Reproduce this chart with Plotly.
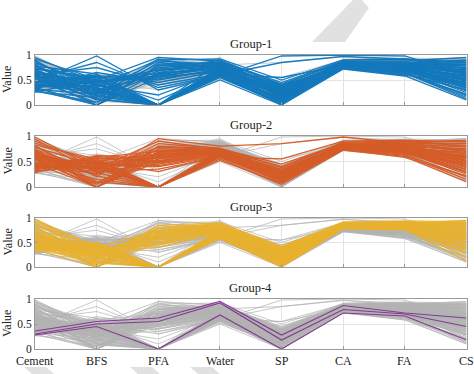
import plotly.graph_objects as go

categories = ["Cement", "BFS", "PFA", "Water", "SP", "CA", "FA", "CS"]
group_names = ["Group-1", "Group-2", "Group-3", "Group-4"]
group_colors = ["#0072BD", "#D95319", "#EDB120", "#7E2F8E"]

# normalised values [Cement, BFS, PFA, Water, SP, CA, FA, CS]
group1 = [
    [0.95, 0.45, 0.00, 0.62, 0.20, 0.80, 0.78, 0.55],
    [0.88, 0.30, 0.00, 0.58, 0.15, 0.82, 0.80, 0.70],
    [0.80, 0.20, 0.00, 0.55, 0.05, 0.85, 0.75, 0.40],
    [0.72, 0.55, 0.00, 0.60, 0.00, 0.78, 0.70, 0.25],
    [0.65, 0.40, 0.00, 0.65, 0.10, 0.76, 0.82, 0.85],
    [0.58, 0.50, 0.00, 0.70, 0.25, 0.80, 0.68, 0.35],
    [0.50, 0.35, 0.00, 0.75, 0.30, 0.83, 0.72, 0.60],
    [0.45, 0.60, 0.00, 0.68, 0.35, 0.78, 0.65, 0.15],
    [0.40, 0.25, 0.00, 0.72, 0.20, 0.74, 0.60, 0.45],
    [0.35, 0.00, 0.55, 0.80, 0.40, 0.76, 0.62, 0.30],
    [0.30, 0.00, 0.65, 0.85, 0.35, 0.80, 0.70, 0.50],
    [0.28, 0.05, 0.75, 0.82, 0.30, 0.78, 0.76, 0.65],
    [0.55, 0.00, 0.80, 0.78, 0.25, 0.82, 0.80, 0.75],
    [0.62, 0.10, 0.85, 0.75, 0.15, 0.85, 0.84, 0.90],
    [0.70, 0.15, 0.92, 0.70, 0.10, 0.86, 0.86, 0.80],
    [0.42, 0.30, 0.60, 0.80, 0.38, 0.80, 0.74, 0.55],
    [0.38, 0.45, 0.70, 0.76, 0.28, 0.79, 0.70, 0.40],
    [0.48, 0.55, 0.50, 0.72, 0.22, 0.77, 0.66, 0.20],
    [0.33, 0.65, 0.45, 0.68, 0.18, 0.75, 0.64, 0.12],
    [0.60, 0.75, 0.40, 0.62, 0.55, 0.80, 0.78, 0.68],
    [0.52, 0.85, 0.35, 0.60, 0.85, 0.97, 0.92, 0.72],
    [0.45, 0.98, 0.30, 0.58, 0.98, 1.00, 0.98, 0.60],
    [0.75, 0.50, 0.95, 0.88, 0.45, 0.88, 0.88, 0.95],
    [0.85, 0.38, 0.90, 0.92, 0.50, 0.90, 0.92, 0.85],
    [0.90, 0.20, 0.00, 0.50, 0.00, 0.72, 0.58, 0.10],
    [0.68, 0.28, 0.00, 0.55, 0.02, 0.74, 0.62, 0.22],
    [0.36, 0.40, 0.20, 0.66, 0.12, 0.76, 0.72, 0.48],
    [0.26, 0.50, 0.10, 0.64, 0.08, 0.73, 0.68, 0.35],
    [0.78, 0.62, 0.00, 0.85, 0.32, 0.84, 0.82, 0.78],
    [0.57, 0.22, 0.68, 0.90, 0.40, 0.87, 0.80, 0.62],
    [0.92, 0.52, 0.00, 0.60, 0.08, 0.79, 0.74, 0.32],
    [0.84, 0.42, 0.00, 0.64, 0.12, 0.81, 0.77, 0.58],
    [0.76, 0.33, 0.00, 0.66, 0.18, 0.80, 0.79, 0.66],
    [0.66, 0.18, 0.00, 0.58, 0.06, 0.77, 0.71, 0.28],
    [0.54, 0.12, 0.00, 0.62, 0.14, 0.79, 0.73, 0.42],
    [0.46, 0.48, 0.58, 0.74, 0.26, 0.81, 0.76, 0.52],
    [0.39, 0.36, 0.72, 0.79, 0.33, 0.83, 0.78, 0.70],
    [0.31, 0.22, 0.82, 0.83, 0.36, 0.84, 0.81, 0.82],
    [0.27, 0.15, 0.62, 0.77, 0.24, 0.80, 0.75, 0.58],
    [0.34, 0.58, 0.52, 0.71, 0.20, 0.78, 0.69, 0.38],
    [0.44, 0.44, 0.64, 0.73, 0.16, 0.77, 0.70, 0.45],
    [0.59, 0.32, 0.00, 0.69, 0.28, 0.82, 0.80, 0.74],
    [0.71, 0.26, 0.88, 0.81, 0.22, 0.85, 0.83, 0.88],
    [0.82, 0.12, 0.00, 0.57, 0.04, 0.75, 0.66, 0.18],
    [0.49, 0.05, 0.78, 0.86, 0.42, 0.86, 0.79, 0.64],
    [0.63, 0.46, 0.56, 0.67, 0.19, 0.79, 0.72, 0.50],
]

group2 = [
    [0.98, 0.35, 0.00, 0.60, 0.20, 0.78, 0.75, 0.50],
    [0.90, 0.45, 0.00, 0.65, 0.25, 0.80, 0.82, 0.70],
    [0.82, 0.55, 0.00, 0.62, 0.15, 0.76, 0.70, 0.30],
    [0.75, 0.00, 0.70, 0.70, 0.30, 0.82, 0.78, 0.65],
    [0.68, 0.00, 0.60, 0.68, 0.22, 0.80, 0.74, 0.45],
    [0.62, 0.05, 0.75, 0.72, 0.35, 0.84, 0.85, 0.85],
    [0.55, 0.00, 0.55, 0.66, 0.18, 0.78, 0.68, 0.25],
    [0.50, 0.40, 0.00, 0.58, 0.10, 0.74, 0.62, 0.15],
    [0.45, 0.30, 0.45, 0.64, 0.28, 0.79, 0.72, 0.55],
    [0.40, 0.50, 0.65, 0.70, 0.32, 0.83, 0.80, 0.75],
    [0.35, 0.60, 0.50, 0.62, 0.20, 0.77, 0.66, 0.35],
    [0.30, 0.45, 0.40, 0.60, 0.12, 0.75, 0.64, 0.20],
    [0.58, 0.25, 0.85, 0.76, 0.38, 0.86, 0.88, 0.92],
    [0.65, 0.35, 0.90, 0.74, 0.40, 0.88, 0.90, 0.80],
    [0.48, 0.15, 0.00, 0.55, 0.05, 0.72, 0.60, 0.10],
    [0.42, 0.55, 0.58, 0.66, 0.25, 0.80, 0.76, 0.60],
    [0.38, 0.40, 0.62, 0.68, 0.30, 0.81, 0.77, 0.68],
    [0.55, 0.48, 0.52, 0.64, 0.22, 0.78, 0.70, 0.40],
    [0.62, 0.42, 0.48, 0.60, 0.15, 0.76, 0.68, 0.30],
    [0.70, 0.30, 0.35, 0.58, 0.55, 0.90, 0.92, 0.88],
    [0.80, 0.20, 0.95, 0.80, 0.85, 0.98, 0.86, 0.72],
    [0.46, 0.00, 0.80, 0.75, 0.45, 0.85, 0.82, 0.58],
    [0.52, 0.52, 0.00, 0.70, 0.28, 0.79, 0.73, 0.50],
    [0.60, 0.38, 0.00, 0.66, 0.20, 0.78, 0.71, 0.42],
    [0.34, 0.50, 0.30, 0.62, 0.18, 0.77, 0.69, 0.62],
    [0.44, 0.58, 0.70, 0.72, 0.26, 0.82, 0.84, 0.78],
    [0.72, 0.10, 0.00, 0.52, 0.08, 0.74, 0.58, 0.22],
    [0.28, 0.62, 0.55, 0.65, 0.24, 0.80, 0.75, 0.48],
    [0.94, 0.28, 0.00, 0.63, 0.18, 0.79, 0.77, 0.60],
    [0.86, 0.50, 0.00, 0.67, 0.24, 0.81, 0.79, 0.52],
    [0.78, 0.42, 0.00, 0.61, 0.12, 0.77, 0.69, 0.34],
    [0.71, 0.00, 0.64, 0.69, 0.27, 0.81, 0.76, 0.56],
    [0.64, 0.08, 0.68, 0.71, 0.31, 0.83, 0.81, 0.72],
    [0.57, 0.00, 0.50, 0.65, 0.21, 0.79, 0.72, 0.44],
    [0.51, 0.34, 0.60, 0.67, 0.25, 0.80, 0.74, 0.58],
    [0.47, 0.46, 0.42, 0.63, 0.19, 0.78, 0.70, 0.38],
    [0.41, 0.36, 0.72, 0.71, 0.29, 0.82, 0.82, 0.82],
    [0.37, 0.56, 0.47, 0.64, 0.23, 0.79, 0.71, 0.46],
    [0.32, 0.40, 0.58, 0.66, 0.27, 0.80, 0.76, 0.66],
    [0.66, 0.22, 0.00, 0.60, 0.14, 0.77, 0.67, 0.28],
    [0.74, 0.32, 0.78, 0.73, 0.33, 0.84, 0.86, 0.90],
    [0.53, 0.44, 0.00, 0.68, 0.26, 0.80, 0.75, 0.62],
    [0.43, 0.26, 0.66, 0.69, 0.22, 0.79, 0.73, 0.52],
]

group3 = [
    [0.98, 0.40, 0.00, 0.65, 0.20, 0.85, 0.88, 0.90],
    [0.90, 0.30, 0.00, 0.70, 0.25, 0.84, 0.86, 0.75],
    [0.82, 0.20, 0.00, 0.75, 0.15, 0.86, 0.90, 0.95],
    [0.75, 0.10, 0.00, 0.68, 0.05, 0.82, 0.84, 0.60],
    [0.65, 0.00, 0.60, 0.80, 0.30, 0.88, 0.92, 0.85],
    [0.58, 0.00, 0.70, 0.85, 0.35, 0.90, 0.88, 0.70],
    [0.50, 0.05, 0.80, 0.88, 0.40, 0.86, 0.85, 0.50],
    [0.45, 0.25, 0.50, 0.78, 0.28, 0.84, 0.82, 0.40],
    [0.40, 0.35, 0.45, 0.72, 0.22, 0.82, 0.80, 0.30],
    [0.35, 0.45, 0.00, 0.62, 0.10, 0.80, 0.78, 0.20],
    [0.32, 0.50, 0.00, 0.58, 0.00, 0.78, 0.76, 0.12],
    [0.55, 0.30, 0.65, 0.82, 0.32, 0.87, 0.90, 0.80],
    [0.62, 0.40, 0.75, 0.86, 0.38, 0.89, 0.92, 0.88],
    [0.70, 0.15, 0.85, 0.90, 0.42, 0.92, 0.94, 0.92],
    [0.48, 0.20, 0.55, 0.75, 0.25, 0.85, 0.86, 0.65],
    [0.38, 0.30, 0.40, 0.70, 0.18, 0.83, 0.83, 0.55],
    [0.85, 0.45, 0.00, 0.66, 0.12, 0.81, 0.80, 0.45],
    [0.42, 0.10, 0.00, 0.60, 0.02, 0.79, 0.78, 0.35],
    [0.60, 0.35, 0.60, 0.80, 0.30, 0.86, 0.88, 0.72],
    [0.52, 0.25, 0.72, 0.84, 0.35, 0.88, 0.90, 0.78],
    [0.36, 0.00, 0.50, 0.74, 0.20, 0.84, 0.84, 0.58],
    [0.68, 0.42, 0.00, 0.64, 0.08, 0.80, 0.82, 0.50],
    [0.95, 0.35, 0.00, 0.68, 0.18, 0.84, 0.87, 0.82],
    [0.87, 0.26, 0.00, 0.72, 0.22, 0.85, 0.88, 0.86],
    [0.78, 0.16, 0.00, 0.70, 0.12, 0.83, 0.85, 0.66],
    [0.66, 0.04, 0.65, 0.82, 0.32, 0.87, 0.90, 0.76],
    [0.56, 0.12, 0.74, 0.86, 0.37, 0.88, 0.89, 0.68],
    [0.47, 0.28, 0.58, 0.79, 0.29, 0.85, 0.85, 0.52],
    [0.41, 0.38, 0.48, 0.74, 0.24, 0.83, 0.82, 0.44],
    [0.34, 0.48, 0.00, 0.63, 0.08, 0.80, 0.80, 0.28],
    [0.58, 0.32, 0.68, 0.83, 0.33, 0.87, 0.89, 0.82],
    [0.72, 0.22, 0.80, 0.88, 0.40, 0.90, 0.92, 0.90],
    [0.50, 0.18, 0.62, 0.80, 0.27, 0.86, 0.87, 0.62],
    [0.39, 0.08, 0.00, 0.61, 0.04, 0.81, 0.79, 0.38],
    [0.62, 0.38, 0.00, 0.67, 0.14, 0.82, 0.84, 0.56],
]

group4 = [
    [0.36, 0.55, 0.62, 0.95, 0.28, 0.87, 0.72, 0.62],
    [0.30, 0.50, 0.55, 0.92, 0.18, 0.79, 0.70, 0.45],
    [0.28, 0.45, 0.00, 0.68, 0.00, 0.72, 0.66, 0.18],
]

groups = [group1, group2, group3, group4]

W, H = 474, 374
x_left, x_right = 35, 466.5
panel_px = [(55, 105), (136, 187), (218, 267), (299, 349)]
serif = "Liberation Serif"
txt = "#222222"
frame = "#9a9a9a"


def build(lines):
    xs, ys = [], []
    for row in lines:
        xs += list(range(len(categories))) + [None]
        ys += list(row) + [None]
    return xs, ys


fig = go.Figure()
annotations = []
for k in range(4):
    sfx = "" if k == 0 else str(k + 1)
    others = [r for j, g in enumerate(groups) if j != k for r in g]
    gx, gy = build(others)
    fig.add_trace(go.Scatter(x=gx, y=gy, mode="lines",
                             line=dict(color="rgba(178,178,178,0.8)", width=0.9),
                             xaxis="x" + sfx, yaxis="y" + sfx,
                             hoverinfo="skip", showlegend=False))
    cx, cy = build(groups[k])
    fig.add_trace(go.Scatter(x=cx, y=cy, mode="lines",
                             line=dict(color=group_colors[k], width=1.3 if k < 3 else 1.2),
                             opacity=0.9,
                             xaxis="x" + sfx, yaxis="y" + sfx,
                             hoverinfo="skip", showlegend=False))
    top, bot = panel_px[k]
    dom_y = [1 - bot / H, 1 - top / H]
    fig.layout["xaxis" + sfx] = dict(
        domain=[x_left / W, x_right / W], range=[0, len(categories) - 1],
        tickmode="array", tickvals=list(range(len(categories))),
        showticklabels=False, automargin=False,
        showgrid=True, gridcolor="#e3e3e3", gridwidth=1,
        showline=True, linecolor=frame, linewidth=1, mirror=True,
        ticks="inside", ticklen=3, tickcolor=frame,
        zeroline=False, anchor="y" + sfx,
    )
    fig.layout["yaxis" + sfx] = dict(
        domain=dom_y, range=[0, 1], tickvals=[0, 0.5, 1], ticktext=["0", "0.5", "1"],
        automargin=False,
        showgrid=True, gridcolor="#e3e3e3", gridwidth=1,
        showline=True, linecolor=frame, linewidth=1, mirror=True,
        ticks="inside", ticklen=3, tickcolor=frame,
        zeroline=False, anchor="x" + sfx,
        tickfont=dict(family=serif, size=11.5, color=txt),
    )
    annotations.append(dict(text=group_names[k], xref="paper", yref="paper",
                            x=(x_left + x_right) / 2 / W, y=1 - (top - 2) / H,
                            xanchor="center", yanchor="bottom", showarrow=False,
                            font=dict(family=serif, size=12.5, color=txt)))
    annotations.append(dict(text="Value", xref="paper", yref="paper",
                            x=7 / W, y=1 - (top + bot) / 2 / H, textangle=-90,
                            xanchor="center", yanchor="middle", showarrow=False,
                            font=dict(family=serif, size=12, color=txt)))

# category labels under the last panel
for i, c in enumerate(categories):
    annotations.append(dict(text=c, xref="x4", yref="paper", x=i, y=1 - 361 / H,
                            xanchor="center", yanchor="middle", showarrow=False,
                            font=dict(family=serif, size=12, color=txt)))

wm = "rgba(225,225,225,1)"


def P(x, y):
    return f"{x / W:.4f},{1 - y / H:.4f}"


shapes = [
    dict(type="path", xref="paper", yref="paper", layer="below", line_width=0, fillcolor=wm,
         path=f"M{P(312,42)} L{P(353,0)} L{P(362,0)} L{P(369,8)} L{P(345,42)} Z"),
]
for x0 in (24, 130, 190):
    shapes.append(dict(type="path", xref="paper", yref="paper", layer="below", line_width=0,
                       fillcolor=wm,
                       path=f"M{P(x0,367)} L{P(x0+22,367)} L{P(x0+30,374)} L{P(x0+8,374)} Z"))

fig.update_layout(width=W, height=H, margin=dict(l=0, r=0, t=0, b=0),
                  paper_bgcolor="white", plot_bgcolor="white",
                  annotations=annotations, shapes=shapes,
                  font=dict(family=serif))
fig.write_html("out.html", config={"displayModeBar": False},
               post_script="document.body.style.margin='0';document.body.style.overflow='hidden';")
